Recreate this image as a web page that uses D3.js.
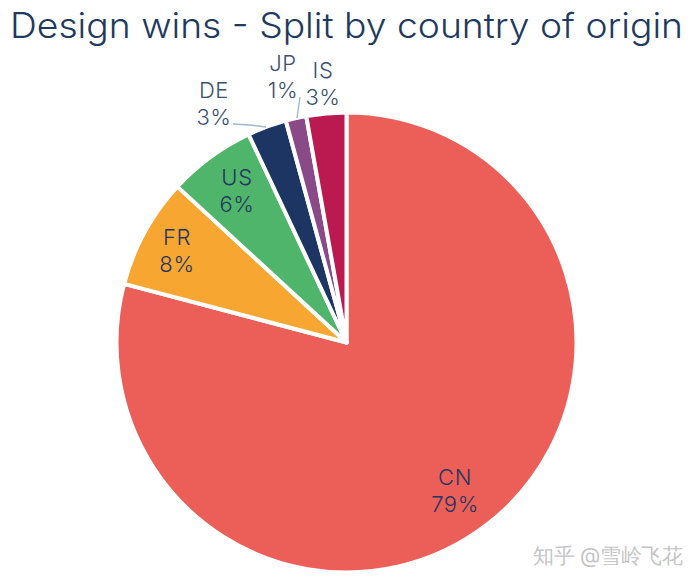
<!DOCTYPE html>
<html><head><meta charset="utf-8">
<script src="https://cdn.jsdelivr.net/npm/d3@7/dist/d3.min.js"></script>
<style>html,body{margin:0;padding:0;background:#fff}svg{display:block}text{font-family:Inter,"Open Sans",sans-serif}</style>
</head><body><svg id="c" width="700" height="585"></svg>
<script>
const categories=["CN","FR","US","DE","JP","IS"];
const values=[79.1,7.75,6.15,2.75,1.45,2.8];
const percentLabels=["79%","8%","6%","3%","1%","3%"];
const colors=["#EC5F59","#F7A632","#4EB56A","#1C3562","#8A4A88","#BA1A50"];
const labelColors=["#26375f","#26375f","#26375f","#3a5070","#3a5070","#3a5070"];
const labelPos=[[455,485],[177,245],[237,185],[214,98],[283,71],[323,78]];
const svg=d3.select("#c");
const cx=346.5,cy=342.5,r=230;
svg.append("text").attr("x",10).attr("y",38).attr("textLength",673).attr("lengthAdjust","spacingAndGlyphs").attr("font-size",35).attr("font-weight",300).attr("fill","#1f3a5f").text("Design wins - Split by country of origin");
const pie=d3.pie().value((d,i)=>values[i]).sort(null)(categories);
const arc=d3.arc().innerRadius(0).outerRadius(r);
const g=svg.append("g").attr("transform",`translate(${cx},${cy})`);
g.selectAll("path").data(pie).join("path").attr("d",arc).attr("fill",(d,i)=>colors[i]).attr("stroke","#fff").attr("stroke-width",4).attr("stroke-linejoin","round");
const lines=[[[233,124],[250,125],[266,127]],[[300,97],[297,118]]];
lines.forEach(l=>svg.append("path").attr("d",d3.line()(l)).attr("fill","none").attr("stroke","#9db8d0").attr("stroke-width",1.4));
categories.forEach((c,i)=>{const t=svg.append("text").attr("text-anchor","middle").attr("font-size",22).attr("font-weight",300).attr("letter-spacing",0.6).attr("fill",labelColors[i]);
t.append("tspan").attr("x",labelPos[i][0]).attr("y",labelPos[i][1]).text(c);
t.append("tspan").attr("x",labelPos[i][0]).attr("y",labelPos[i][1]+27).text(percentLabels[i]);});
svg.append("text").attr("x",533).attr("y",563).attr("textLength",150).attr("font-size",21).attr("fill","#c4c4c4").attr("font-family","Noto Sans CJK SC").text("知乎 @雪岭飞花");
</script></body></html>
